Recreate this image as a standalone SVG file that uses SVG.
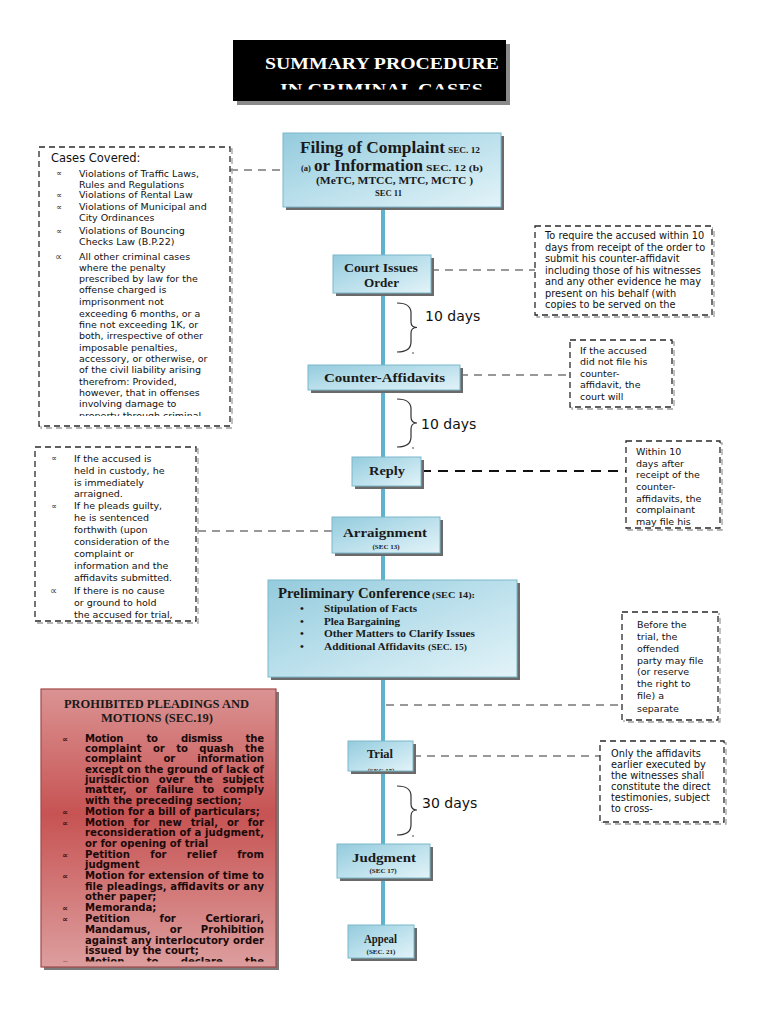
<svg xmlns="http://www.w3.org/2000/svg" width="768" height="1024" viewBox="0 0 768 1024">
<defs>
<linearGradient id="blue" x1="0" y1="0" x2="1" y2="1">
<stop offset="0" stop-color="#94CBDD"/>
<stop offset="0.5" stop-color="#BBE0EC"/>
<stop offset="1" stop-color="#E3F3F8"/>
</linearGradient>
<linearGradient id="red" x1="0" y1="0" x2="0" y2="1">
<stop offset="0" stop-color="#DB9393"/>
<stop offset="0.45" stop-color="#C75353"/>
<stop offset="1" stop-color="#DD9E9E"/>
</linearGradient>
<clipPath id="clipTitle"><rect x="233" y="40" width="273" height="49.5"/></clipPath>
<clipPath id="clipCases"><rect x="39" y="147" width="191" height="269"/></clipPath>
<clipPath id="clipProh"><rect x="41" y="689" width="235" height="272.5"/></clipPath>
<clipPath id="clipTrial"><rect x="348" y="741" width="65" height="29.5"/></clipPath>
<style>
.box{fill:url(#blue);stroke:#7AB8CC;stroke-width:1}
.sh{fill:#6a6a6a}
.note{fill:#fff;stroke:#2a2a2a;stroke-width:1.3;stroke-dasharray:6 4}
.nsh{fill:none;stroke:#a0a0a0;stroke-width:1.3;stroke-dasharray:6 4}
.lbl{font-family:"Liberation Serif",serif;font-weight:bold;fill:#1a1a1a}
.sub{font-family:"Liberation Serif",serif;font-weight:bold;fill:#1a1a1a;font-size:7px;text-anchor:middle}
.sans{font-family:"DejaVu Sans",sans-serif;fill:#111;font-size:9.5px}
.wide{font-size:9.8px}
.bul{font-family:"DejaVu Sans",sans-serif;fill:#333;font-size:8px}
.pb{font-family:"DejaVu Sans",sans-serif;font-weight:bold;fill:#3a1010;font-size:8px}
.pr{font-family:"DejaVu Sans",sans-serif;font-weight:bold;fill:#1a0a0a;font-size:10.1px}
.conn{stroke:#333;stroke-width:1;stroke-dasharray:8 6;fill:none}
.brace{fill:none;stroke:#333;stroke-width:1.2}
.days{font-family:"DejaVu Sans",sans-serif;fill:#111;font-size:14px}
</style>
</defs>
<rect width="768" height="1024" fill="#fff"/>

<g id="connectors">
<line x1="383" y1="207" x2="383" y2="925" stroke="#5EB2CD" stroke-width="4"/>
<line class="conn" x1="230" y1="170" x2="283" y2="170"/>
<line class="conn" x1="431" y1="270" x2="535" y2="270"/>
<line class="conn" x1="460" y1="375" x2="570" y2="375"/>
<line x1="421" y1="471" x2="626" y2="471" stroke="#111" stroke-width="2" stroke-dasharray="10 7"/>
<line class="conn" x1="198" y1="531" x2="332" y2="531"/>
<line class="conn" x1="386" y1="705" x2="622" y2="705"/>
<line class="conn" x1="413" y1="756" x2="600" y2="756"/>
</g>

<g id="title">
<rect x="237" y="44" width="273" height="61" fill="#8a8a8a"/>
<rect x="233" y="40" width="273" height="61" fill="#000"/>
<text class="lbl" x="265" y="69" font-size="17" style="fill:#fff" textLength="234" lengthAdjust="spacingAndGlyphs">SUMMARY PROCEDURE</text>
<text class="lbl" x="280" y="94.5" font-size="17" style="fill:#fff" textLength="203" lengthAdjust="spacingAndGlyphs" clip-path="url(#clipTitle)">IN CRIMINAL CASES</text>
</g>

<g id="filing">
<rect class="sh" x="286" y="136" width="218" height="74"/>
<rect class="box" x="283" y="133" width="218" height="74"/>
<text class="lbl" x="300" y="153" font-size="17" textLength="145" lengthAdjust="spacingAndGlyphs">Filing of Complaint</text>
<text class="lbl" x="448" y="153" font-size="8.5" textLength="32" lengthAdjust="spacingAndGlyphs">SEC. 12</text>
<text class="lbl" x="301" y="171" font-size="8.5">(a)</text>
<text class="lbl" x="314" y="171" font-size="17" textLength="109" lengthAdjust="spacingAndGlyphs">or Information</text>
<text class="lbl" x="426" y="171" font-size="8.5" textLength="57" lengthAdjust="spacingAndGlyphs">SEC. 12 (b)</text>
<text class="lbl" x="316" y="184" font-size="10.5" textLength="157" lengthAdjust="spacingAndGlyphs">(MeTC, MTCC, MTC, MCTC )</text>
<text class="lbl" x="375" y="196" font-size="8" textLength="27" lengthAdjust="spacingAndGlyphs">SEC 11</text>
</g>

<g id="cases">
<rect class="nsh" x="41" y="149" width="191" height="279"/>
<rect class="note" x="39" y="147" width="191" height="279"/>
<text class="sans" x="51" y="162" style="font-size:11.5px">Cases Covered:</text>
<g clip-path="url(#clipCases)">
<text class="bul" x="56" y="176">∝</text>
<text class="bul" x="56" y="197.5">∝</text>
<text class="bul" x="56" y="209.5">∝</text>
<text class="bul" x="56" y="233.5">∝</text>
<text class="bul" x="55" y="259.5" style="font-size:10px">∝</text>
<text class="sans" x="79" y="176.5">Violations of Traffic Laws,</text>
<text class="sans" x="79" y="187.5">Rules and Regulations</text>
<text class="sans" x="79" y="198">Violations of Rental Law</text>
<text class="sans" x="79" y="210">Violations of Municipal and</text>
<text class="sans" x="79" y="221">City Ordinances</text>
<text class="sans" x="79" y="234">Violations of Bouncing</text>
<text class="sans" x="79" y="245">Checks Law (B.P.22)</text>
<text class="sans" x="79" y="260">All other criminal cases</text>
<text class="sans" x="79" y="271">where the penalty</text>
<text class="sans" x="79" y="282">prescribed by law for the</text>
<text class="sans" x="79" y="293">offense charged is</text>
<text class="sans" x="79" y="305">imprisonment not</text>
<text class="sans" x="79" y="316.5">exceeding 6 months, or a</text>
<text class="sans" x="79" y="328">fine not exceeding 1K, or</text>
<text class="sans" x="79" y="339">both, irrespective of other</text>
<text class="sans" x="79" y="350.5">imposable penalties,</text>
<text class="sans" x="79" y="362">accessory, or otherwise, or</text>
<text class="sans" x="79" y="373">of the civil liability arising</text>
<text class="sans" x="79" y="384.5">therefrom: Provided,</text>
<text class="sans" x="79" y="396">however, that in offenses</text>
<text class="sans" x="79" y="407">involving damage to</text>
<text class="sans" x="79" y="418.5">property through criminal</text>
</g>
</g>

<g id="court-issues-order">
<rect class="sh" x="336" y="258" width="98" height="38"/>
<rect class="box" x="333" y="255" width="98" height="38"/>
<text class="lbl" x="344" y="271.5" font-size="13" textLength="74" lengthAdjust="spacingAndGlyphs">Court Issues</text>
<text class="lbl" x="364" y="287" font-size="13" textLength="35" lengthAdjust="spacingAndGlyphs">Order</text>
</g>

<g id="note-order">
<rect class="nsh" x="537" y="228" width="177" height="89"/>
<rect class="note" x="535" y="226" width="177" height="89"/>
<text class="sans wide" x="545" y="239">To require the accused within 10</text>
<text class="sans wide" x="545" y="250.5">days from receipt of the order to</text>
<text class="sans wide" x="545" y="262">submit his counter-affidavit</text>
<text class="sans wide" x="545" y="273.5">including those of his witnesses</text>
<text class="sans wide" x="545" y="285">and any other evidence he may</text>
<text class="sans wide" x="545" y="296.5">present on his behalf (with</text>
<text class="sans wide" x="545" y="308">copies to be served on the</text>
</g>

<g id="brace1">
<path class="brace" d="M397,303 Q411,303 411,313 L411,322 Q411,327.5 417,327.5 Q411,327.5 411,333 L411,342 Q411,352 397,352"/>
<circle cx="413" cy="353" r="0.8" fill="#333"/>
<text class="days" x="425" y="321">10 days</text>
</g>

<g id="counter-affidavits">
<rect class="sh" x="311" y="368" width="152" height="25"/>
<rect class="box" x="308" y="365" width="152" height="25"/>
<text class="lbl" x="324" y="382" font-size="13" textLength="121" lengthAdjust="spacingAndGlyphs">Counter-Affidavits</text>
</g>

<g id="note-counter">
<rect class="nsh" x="572" y="342" width="102" height="67"/>
<rect class="note" x="570" y="340" width="102" height="67"/>
<text class="sans" x="580" y="353.5">If the accused</text>
<text class="sans" x="580" y="365">did not file his</text>
<text class="sans" x="580" y="376.5">counter-</text>
<text class="sans" x="580" y="388">affidavit, the</text>
<text class="sans" x="580" y="399.5">court will</text>
</g>

<g id="brace2">
<path class="brace" d="M397,399 Q411,399 411,409 L411,417 Q411,423 417,423 Q411,423 411,429 L411,437 Q411,447 397,447"/>
<circle cx="413" cy="448" r="0.8" fill="#333"/>
<text class="days" x="421" y="429">10 days</text>
</g>

<g id="reply">
<rect class="sh" x="355" y="460" width="69" height="29"/>
<rect class="box" x="352" y="457" width="69" height="29"/>
<text class="lbl" x="369" y="475" font-size="13" textLength="36" lengthAdjust="spacingAndGlyphs">Reply</text>
</g>

<g id="note-reply">
<rect class="nsh" x="628" y="443" width="94" height="87"/>
<rect class="note" x="626" y="441" width="94" height="87"/>
<text class="sans" x="636" y="455">Within 10</text>
<text class="sans" x="636" y="466.5">days after</text>
<text class="sans" x="636" y="478">receipt of the</text>
<text class="sans" x="636" y="489.5">counter-</text>
<text class="sans" x="636" y="501.5">affidavits, the</text>
<text class="sans" x="636" y="513">complainant</text>
<text class="sans" x="636" y="524.5">may file his</text>
</g>

<g id="arraignment">
<rect class="sh" x="335" y="520" width="108" height="36"/>
<rect class="box" x="332" y="517" width="108" height="36"/>
<text class="lbl" x="343" y="536.5" font-size="13" textLength="84" lengthAdjust="spacingAndGlyphs">Arraignment</text>
<text class="sub" x="386" y="548.5">(SEC 13)</text>
</g>

<g id="note-arraignment">
<rect class="nsh" x="37" y="449" width="161" height="174"/>
<rect class="note" x="35" y="447" width="161" height="174"/>
<text class="bul" x="51" y="461">∝</text>
<text class="bul" x="51" y="508.5">∝</text>
<text class="bul" x="50" y="594" style="font-size:10px">∝</text>
<text class="sans" x="74" y="461.5">If the accused is</text>
<text class="sans" x="74" y="473.5">held in custody, he</text>
<text class="sans" x="74" y="485.5">is immediately</text>
<text class="sans" x="74" y="497">arraigned.</text>
<text class="sans" x="74" y="509">If he pleads guilty,</text>
<text class="sans" x="74" y="521">he is sentenced</text>
<text class="sans" x="74" y="533">forthwith (upon</text>
<text class="sans" x="74" y="545">consideration of the</text>
<text class="sans" x="74" y="557">complaint or</text>
<text class="sans" x="74" y="569">information and the</text>
<text class="sans" x="74" y="580.5">affidavits submitted.</text>
<text class="sans" x="74" y="594">If there is no cause</text>
<text class="sans" x="74" y="606">or ground to hold</text>
<text class="sans" x="74" y="618">the accused for trial,</text>
</g>

<g id="preliminary-conference">
<rect class="sh" x="271" y="583" width="249" height="97"/>
<rect class="box" x="268" y="580" width="249" height="97"/>
<text class="lbl" x="278" y="598" font-size="14" textLength="152" lengthAdjust="spacingAndGlyphs">Preliminary Conference</text>
<text class="lbl" x="432" y="598" font-size="9" textLength="43" lengthAdjust="spacingAndGlyphs">(SEC 14):</text>
<text class="lbl" x="300" y="611.5" font-size="11">•</text>
<text class="lbl" x="300" y="624.5" font-size="11">•</text>
<text class="lbl" x="300" y="637" font-size="11">•</text>
<text class="lbl" x="300" y="650" font-size="11">•</text>
<text class="lbl" x="324" y="611.5" font-size="10" textLength="93" lengthAdjust="spacingAndGlyphs">Stipulation of Facts</text>
<text class="lbl" x="324" y="624.5" font-size="10" textLength="76" lengthAdjust="spacingAndGlyphs">Plea Bargaining</text>
<text class="lbl" x="324" y="637" font-size="10" textLength="151" lengthAdjust="spacingAndGlyphs">Other Matters to Clarify Issues</text>
<text class="lbl" x="324" y="650" font-size="10" textLength="101" lengthAdjust="spacingAndGlyphs">Additional Affidavits</text>
<text class="lbl" x="428" y="650" font-size="8.5" textLength="39" lengthAdjust="spacingAndGlyphs">(SEC. 15)</text>
</g>

<g id="note-preliminary">
<rect class="nsh" x="624" y="614" width="96" height="108"/>
<rect class="note" x="622" y="612" width="96" height="108"/>
<text class="sans" x="637" y="628">Before the</text>
<text class="sans" x="637" y="640">trial, the</text>
<text class="sans" x="637" y="651.5">offended</text>
<text class="sans" x="637" y="663.5">party may file</text>
<text class="sans" x="637" y="675">(or reserve</text>
<text class="sans" x="637" y="687">the right to</text>
<text class="sans" x="637" y="699">file) a</text>
<text class="sans" x="637" y="711.5">separate</text>
</g>

<g id="prohibited">
<rect x="44" y="692" width="235" height="278" fill="#7a7a7a"/>
<rect x="41" y="689" width="235" height="278" fill="url(#red)" stroke="#A24848" stroke-width="1.2"/>
<text class="lbl" x="64" y="708" font-size="12" textLength="185" lengthAdjust="spacingAndGlyphs">PROHIBITED PLEADINGS AND</text>
<text class="lbl" x="101" y="722" font-size="12" textLength="112" lengthAdjust="spacingAndGlyphs">MOTIONS (SEC.19)</text>
<g clip-path="url(#clipProh)">
<text class="pb" x="62" y="742">∝</text>
<text class="pb" x="62" y="815">∝</text>
<text class="pb" x="62" y="826">∝</text>
<text class="pb" x="62" y="857.5">∝</text>
<text class="pb" x="62" y="879">∝</text>
<text class="pb" x="62" y="910.5">∝</text>
<text class="pb" x="62" y="921.5">∝</text>
<text class="pb" x="62" y="964.5">∝</text>
<text class="pr" x="85" y="741.5" style="word-spacing:20px" textLength="179" lengthAdjust="spacing">Motion to dismiss the</text>
<text class="pr" x="85" y="752" style="word-spacing:7.8px" textLength="179" lengthAdjust="spacing">complaint or to quash the</text>
<text class="pr" x="85" y="762" style="word-spacing:18.4px" textLength="179" lengthAdjust="spacing">complaint or information</text>
<text class="pr" x="85" y="772.5" textLength="179" lengthAdjust="spacing">except on the ground of lack of</text>
<text class="pr" x="85" y="782.5" style="word-spacing:6.2px" textLength="179" lengthAdjust="spacing">jurisdiction over the subject</text>
<text class="pr" x="85" y="793" style="word-spacing:5.2px" textLength="179" lengthAdjust="spacing">matter, or failure to comply</text>
<text class="pr" x="85" y="803.5">with the preceding section;</text>
<text class="pr" x="85" y="814.5">Motion for a bill of particulars;</text>
<text class="pr" x="85" y="825.5" style="word-spacing:5.3px" textLength="179" lengthAdjust="spacing">Motion for new trial, or for</text>
<text class="pr" x="85" y="836" textLength="179" lengthAdjust="spacing">reconsideration of a judgment,</text>
<text class="pr" x="85" y="846.5">or for opening of trial</text>
<text class="pr" x="85" y="857.5" style="word-spacing:16.8px" textLength="179" lengthAdjust="spacing">Petition for relief from</text>
<text class="pr" x="85" y="867.5">judgment</text>
<text class="pr" x="85" y="879" textLength="179" lengthAdjust="spacing">Motion for extension of time to</text>
<text class="pr" x="85" y="890" textLength="179" lengthAdjust="spacing">file pleadings, affidavits or any</text>
<text class="pr" x="85" y="900">other paper;</text>
<text class="pr" x="85" y="910.5">Memoranda;</text>
<text class="pr" x="85" y="921.5" style="word-spacing:26px" textLength="179" lengthAdjust="spacing">Petition for Certiorari,</text>
<text class="pr" x="85" y="933" style="word-spacing:15.6px" textLength="179" lengthAdjust="spacing">Mandamus, or Prohibition</text>
<text class="pr" x="85" y="943.5" textLength="179" lengthAdjust="spacing">against any interlocutory order</text>
<text class="pr" x="85" y="953.5">issued by the court;</text>
<text class="pr" x="85" y="964.5" style="word-spacing:18.7px" textLength="179" lengthAdjust="spacing">Motion to declare the</text>
</g>
</g>

<g id="trial">
<rect class="sh" x="351" y="744" width="65" height="30"/>
<rect class="box" x="348" y="741" width="65" height="30"/>
<text class="lbl" x="367" y="758" font-size="13" textLength="26" lengthAdjust="spacingAndGlyphs">Trial</text>
<text class="sub" x="381" y="773" clip-path="url(#clipTrial)">(SEC 15)</text>
</g>

<g id="note-trial">
<rect class="nsh" x="602" y="743" width="124" height="81"/>
<rect class="note" x="600" y="741" width="124" height="81"/>
<text class="sans wide" x="611" y="756.5">Only the affidavits</text>
<text class="sans wide" x="611" y="767.5">earlier executed by</text>
<text class="sans wide" x="611" y="778.5">the witnesses shall</text>
<text class="sans wide" x="611" y="789.5">constitute the direct</text>
<text class="sans wide" x="611" y="800.5">testimonies, subject</text>
<text class="sans wide" x="611" y="811.5">to cross-</text>
</g>

<g id="brace3">
<path class="brace" d="M397,786 Q411,786 411,796 L411,804 Q411,810 417,810 Q411,810 411,816 L411,825 Q411,835 397,835"/>
<circle cx="413" cy="836" r="0.8" fill="#333"/>
<text class="days" x="422" y="808">30 days</text>
</g>

<g id="judgment">
<rect class="sh" x="340" y="847" width="93" height="34"/>
<rect class="box" x="337" y="844" width="93" height="34"/>
<text class="lbl" x="352" y="861.5" font-size="13" textLength="64" lengthAdjust="spacingAndGlyphs">Judgment</text>
<text class="sub" x="383" y="873">(SEC 17)</text>
</g>

<g id="appeal">
<rect class="sh" x="351" y="928" width="66" height="33"/>
<rect class="box" x="348" y="925" width="66" height="33"/>
<text class="lbl" x="364" y="942.5" font-size="13" textLength="33" lengthAdjust="spacingAndGlyphs">Appeal</text>
<text class="sub" x="381" y="954">(SEC. 21)</text>
</g>
</svg>
